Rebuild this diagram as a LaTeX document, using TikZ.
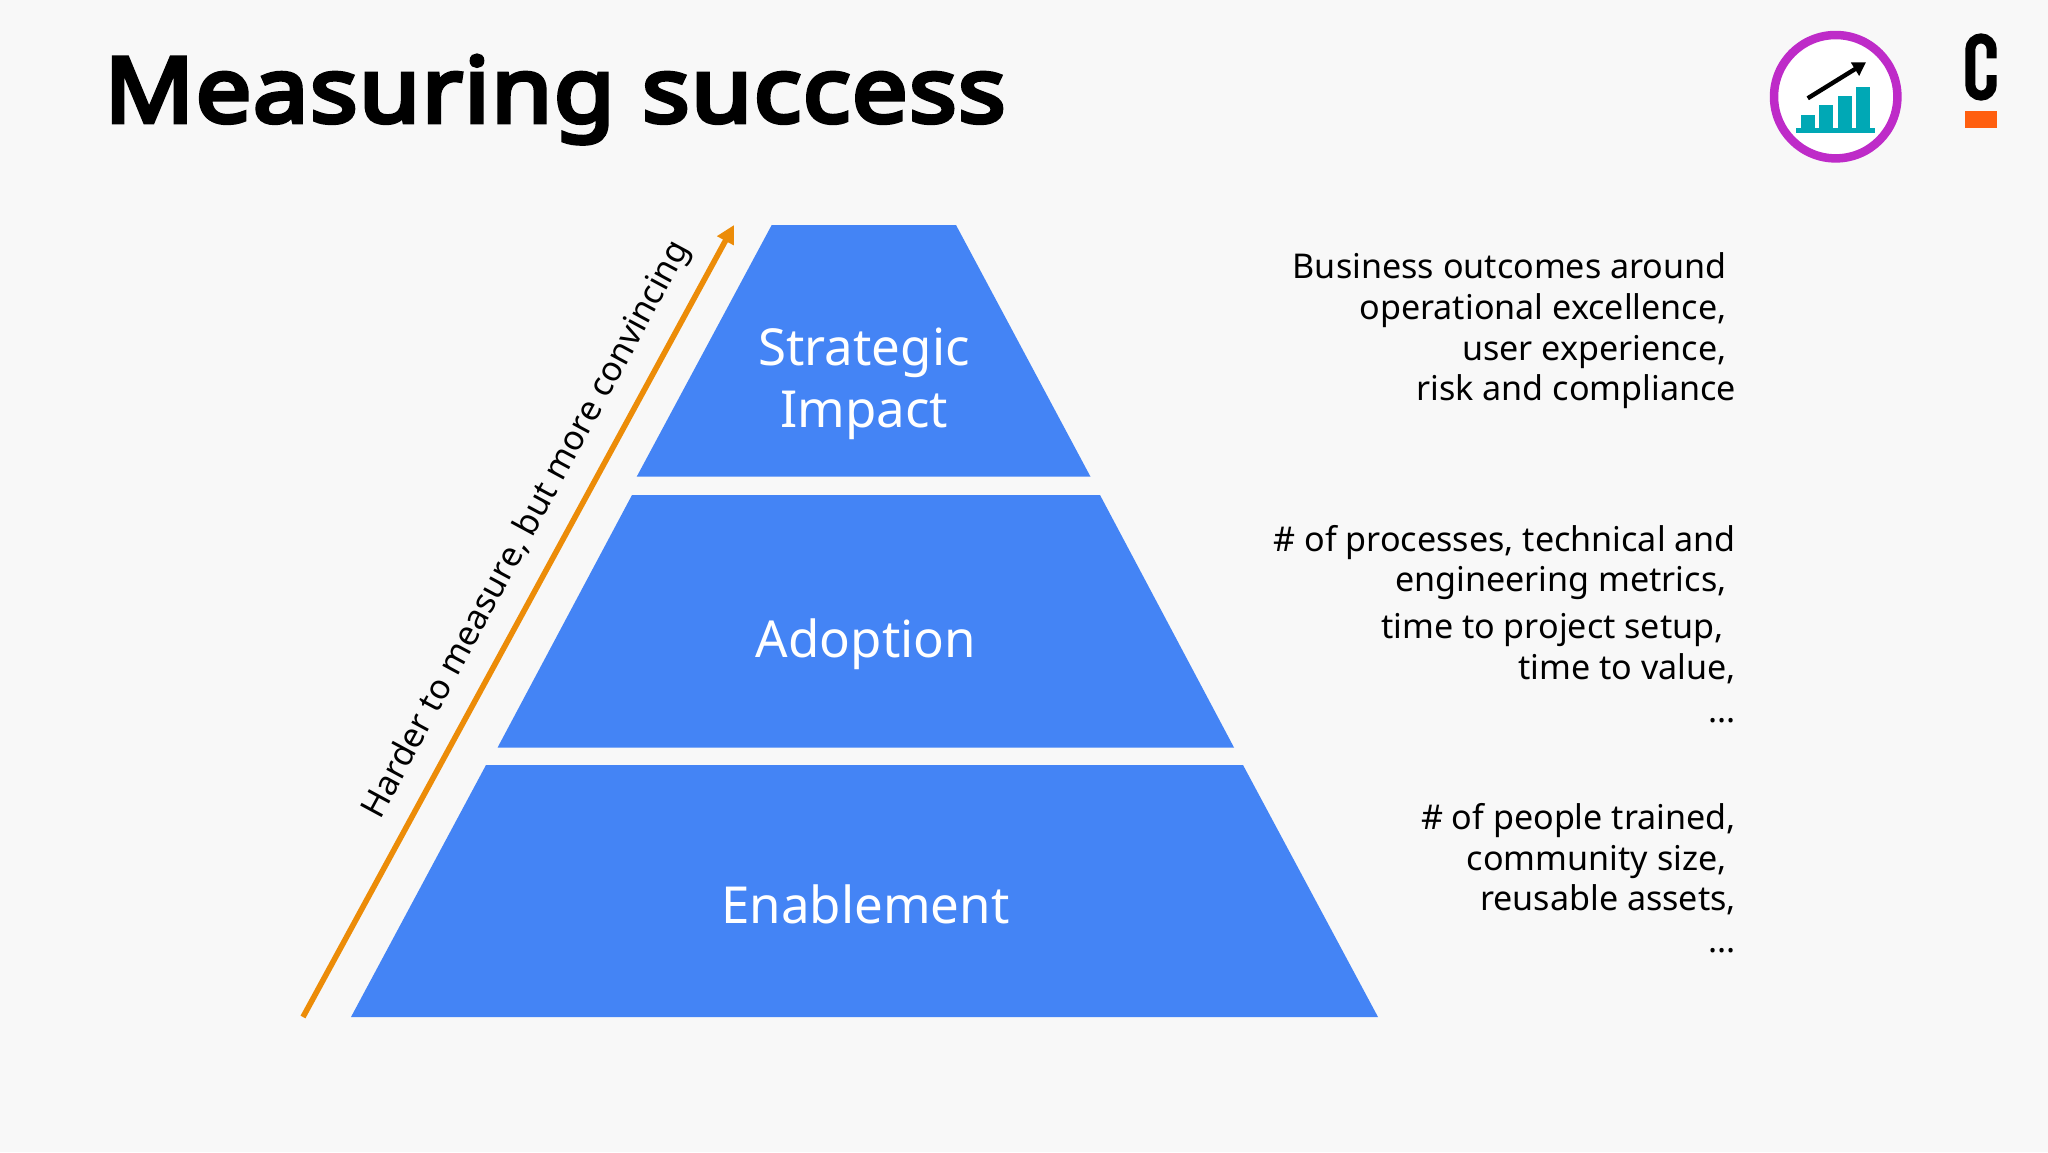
\documentclass[tikz,border=0pt]{standalone}
\usepackage{fontspec}
\setmainfont{Noto Sans}
\newfontfamily\titlefont{Noto Sans}[FakeBold=5,FakeStretch=1.10,LetterSpace=1.7]
\usetikzlibrary{arrows.meta}
\definecolor{bgc}{HTML}{F8F8F8}
\definecolor{pyr}{HTML}{4484F5}
\definecolor{orng}{HTML}{EC8C08}
\definecolor{ring}{HTML}{BE2BC8}
\definecolor{teal}{HTML}{00A8B5}
\definecolor{logo}{HTML}{FF5F0F}
\tikzset{
  tier/.style={fill=pyr,draw=none},
  tiertext/.style={text=white,font=\fontsize{25.5}{30}\selectfont,inner sep=0pt,anchor=base},
  side/.style={text=black,font=\fontsize{17.05}{20}\selectfont,inner sep=0pt,anchor=base east},
  bar/.style={fill=teal,draw=none}
}
\begin{document}
\begin{tikzpicture}[x=0.5pt,y=-0.5pt]
\fill[bgc] (0,0) rectangle (2048,1152);
\useasboundingbox (0,0) rectangle (2048,1152);
\node[inner sep=0pt,anchor=base west,font=\titlefont\fontsize{45}{50}\selectfont] (title) at (104,122) {Measuring success};
% pyramid
\fill[tier] (771.7,225) -- (956,225) -- (1090.5,476.7) -- (636.7,476.7) -- cycle;
\fill[tier] (632,495) -- (1100,495) -- (1234,747.5) -- (497.6,747.5) -- cycle;
\fill[tier] (486,765) -- (1243,765) -- (1378,1017) -- (351,1017) -- cycle;
\node[tiertext] (s1) at (864,365.3) {Strategic};
\node[tiertext] (s2) at (864,427.3) {Impact};
\node[tiertext] (ad) at (866,657.3) {Adoption};
\node[tiertext] (en) at (865.5,923.3) {Enablement};
% arrow
\coordinate (a0) at (303,1017);
\coordinate (a1) at (734,225);
\draw[orng,line width=2.8pt,-{Triangle[length=9pt,width=9pt]}] (a0) -- (a1);
\node[rotate=61.6,inner sep=0pt,font=\fontsize{17.05}{20}\selectfont] (harder) at (527,530) {Harder to measure, but more convincing};
% side text
\node[side] (t1) at (1727,278.3) {Business outcomes around};
\node[side] (t2) at (1727,319.3) {operational excellence,};
\node[side] (t3) at (1727,360.3) {user experience,};
\node[side] (t4) at (1736.3,400.8) {risk and compliance};
\node[side] (u1) at (1736.3,551.3) {\# of processes, technical and};
\node[side] (u2) at (1727,591.3) {engineering metrics,};
\node[side] (u3) at (1724,638.3) {time to project setup,};
\node[side] (u4) at (1736.3,679.3) {time to value,};
\node[side] (u5) at (1736.3,722.7) {...};
\node[side] (v1) at (1736.3,829.3) {\# of people trained,};
\node[side] (v2) at (1727,870.3) {community size,};
\node[side] (v3) at (1736.3,910.8) {reusable assets,};
\node[side] (v4) at (1736.3,952.5) {...};
% icon
\draw[ring,line width=4.25pt,fill=white] (1835.7,96.7) circle (61.7);
\fill[bar] (1796,128) rectangle (1875,132.7);
\fill[bar] (1800.7,114.7) rectangle (1814.7,130);
\fill[bar] (1819.3,105.3) rectangle (1833,130);
\fill[bar] (1838,96) rectangle (1851.7,130);
\fill[bar] (1856.3,87) rectangle (1870,130);
\coordinate (i0) at (1807.7,98.3);
\coordinate (i1) at (1866,62.3);
\draw[black,line width=2.2pt,-{Triangle[length=6.5pt,width=7.5pt]}] (i0) -- (i1);
% logo
\draw[black,line width=5pt,rounded corners=5.5pt] (1991.7,58.3) -- (1991.7,38.3) -- (1970.3,38.3) -- (1970.3,95.7) -- (1991.7,95.7) -- (1991.7,75);
\fill[logo] (1965.3,110.7) rectangle (1996.7,128);
\end{tikzpicture}
\end{document}
